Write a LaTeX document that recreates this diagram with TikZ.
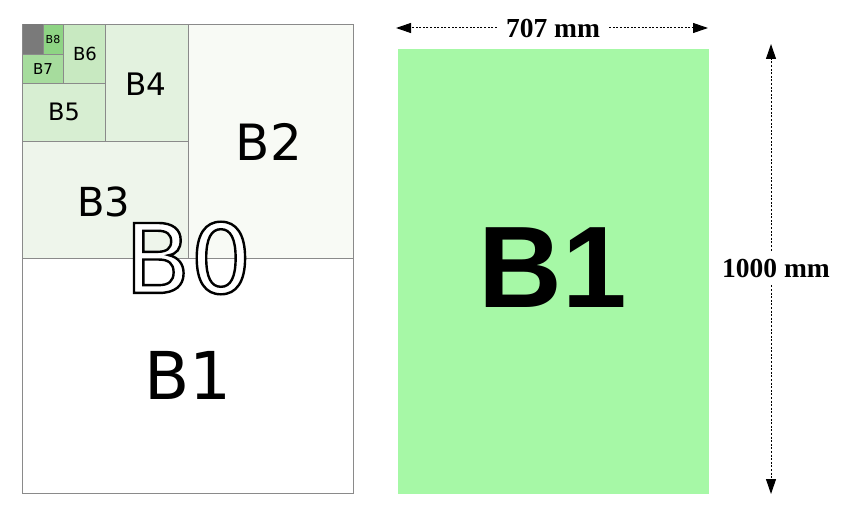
\documentclass[tikz,border=0pt]{standalone}
\usepackage{fontspec}
\setmainfont{Liberation Serif}
\newfontfamily\dejavu{DejaVu Sans}
\newfontfamily\arialf{Liberation Sans}
\usetikzlibrary{arrows.meta,calc}
\definecolor{edge}{RGB}{138,138,138}
\definecolor{cbtwo}{RGB}{248,250,245}
\definecolor{cbthree}{RGB}{238,245,235}
\definecolor{cbfour}{RGB}{227,242,223}
\definecolor{cbfive}{RGB}{215,238,210}
\definecolor{cbsix}{RGB}{200,233,193}
\definecolor{cbseven}{RGB}{166,220,157}
\definecolor{cbeight}{RGB}{142,212,132}
\definecolor{cgray}{RGB}{122,122,122}
\definecolor{sheet}{RGB}{166,248,166}
\newcommand{\outlinetext}[1]{\special{pdf:literal direct 2 Tr 2.4 w 0 G 1 g}#1\special{pdf:literal direct 0 Tr 0 g}}
\tikzset{
  region/.style={draw=edge, line width=0.9pt},
  lbl/.style={inner sep=0pt, font=\dejavu, text=black},
  dim/.style={line width=1pt, dash pattern=on 2pt off 1.6pt},
  dimtext/.style={font=\bfseries\fontsize{27.5}{27.5}\selectfont, fill=white},
  tip/.style={-{Triangle[length=15pt,width=10pt]}}
}
\begin{document}
\begin{tikzpicture}[x=1pt,y=-1pt]
\useasboundingbox (0,0) rectangle (850,516);
% left B-series sheet
\filldraw[region, fill=white] (22,24) rectangle (353,493);
\filldraw[region, fill=cbtwo] (188,24) rectangle (353,258);
\filldraw[region, fill=cbthree] (22,141) rectangle (188,258);
\filldraw[region, fill=cbfour] (105,24) rectangle (188,141);
\filldraw[region, fill=cbfive] (22,83) rectangle (105,141);
\filldraw[region, fill=cbsix] (63,24) rectangle (105,83);
\filldraw[region, fill=cbseven] (22,54) rectangle (63,83);
\filldraw[region, fill=cbeight] (43,24) rectangle (63,54);
\fill[cgray] (22.5,24.5) rectangle (43,54);
\node[lbl, font=\dejavu\fontsize{11}{11}\selectfont] (lb8) at (53,39) {B8};
\node[lbl, font=\dejavu\fontsize{15}{15}\selectfont] (lb7) at (43,69) {B7};
\node[lbl, font=\dejavu\fontsize{18}{18}\selectfont] (lb6) at (85,54) {B6};
\node[lbl, font=\dejavu\fontsize{24}{24}\selectfont] (lb5) at (64,112) {B5};
\node[lbl, font=\dejavu\fontsize{31}{31}\selectfont] (lb4) at (146,84) {B4};
\node[lbl, font=\dejavu\fontsize{40}{40}\selectfont] (lb3) at (104,202) {B3};
\node[lbl, font=\dejavu\fontsize{50}{50}\selectfont] (lb2) at (269,142) {B2};
\node[lbl, font=\dejavu\fontsize{66}{66}\selectfont] (lb1) at (188,375) {B1};
% outlined B0
\node[lbl, font=\dejavu\fontsize{96}{96}\selectfont] (lb0) at (188,258) {\outlinetext{B0}};
% right B1 sheet
\fill[sheet] (398,49) rectangle (709,494);
\node[inner sep=0pt, font=\arialf\bfseries\fontsize{116}{116}\selectfont] (big) at (553,268) {B1};
% width dimension
\coordinate (wl) at (396,28);
\coordinate (wr) at (708,28);
\node[dimtext, inner xsep=9pt, inner ysep=1pt] (wt) at (553,28) {707 mm};
\draw[dim, tip] (wt) -- (wl);
\draw[dim, tip] (wt) -- (wr);
% height dimension
\coordinate (ht) at (771,44);
\coordinate (hb) at (771,494);
\node[dimtext, inner xsep=1pt, inner ysep=8pt] (hl) at (776,268) {1000 mm};
\draw[dim, tip] (hl.north -| ht) -- (ht);
\draw[dim, tip] (hl.south -| hb) -- (hb);
\end{tikzpicture}
\end{document}
